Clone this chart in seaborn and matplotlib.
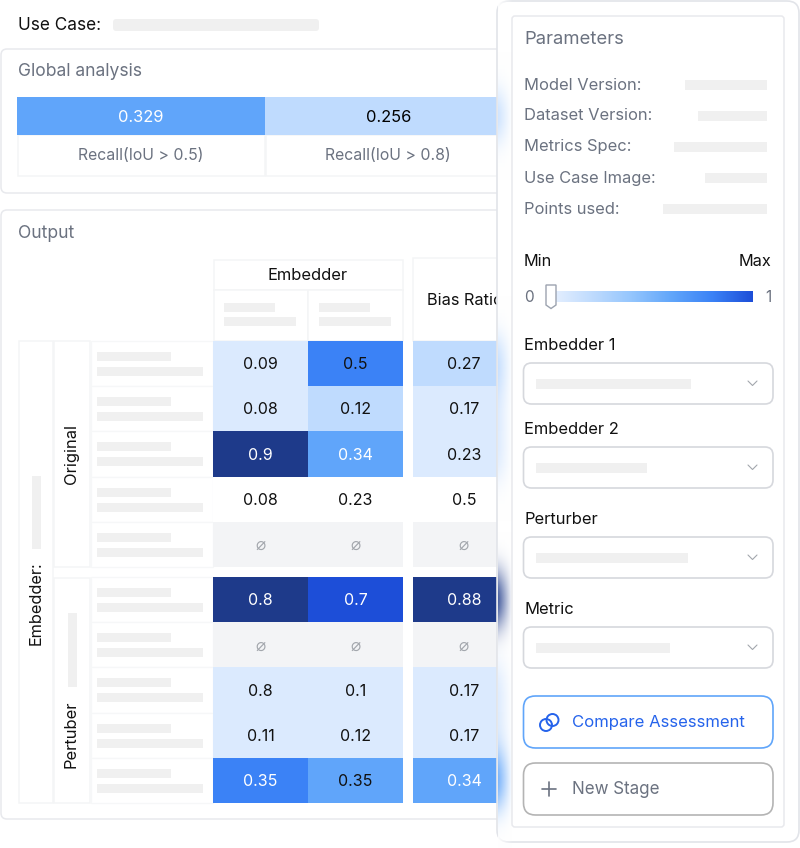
import numpy as np
import matplotlib
matplotlib.use("Agg")
import matplotlib.pyplot as plt
import seaborn as sns
from matplotlib.colors import ListedColormap, LinearSegmentedColormap, to_rgb
from matplotlib.patches import FancyBboxPatch, Rectangle, Polygon, Circle

# ---- data -------------------------------------------------------------
global_values = ["0.329", "0.256"]
global_shades = [3, 2]
global_text = ["white", "black"]
global_metrics = ["Recall(IoU > 0.5)", "Recall(IoU > 0.8)"]

NULL = "\u2300"
embedder_labels = [["0.09", "0.5"], ["0.08", "0.12"], ["0.9", "0.34"], ["0.08", "0.23"], [NULL, NULL]]
embedder_shades = [[1, 4], [1, 2], [6, 3], [0, 0], [7, 7]]
embedder_text = [["k", "k"], ["k", "k"], ["w", "w"], ["k", "k"], ["n", "n"]]

bias_labels = [["0.27"], ["0.17"], ["0.23"], ["0.5"], [NULL]]
bias_shades = [[2], [1], [1], [0], [7]]
bias_text = [["k"], ["k"], ["k"], ["k"], ["n"]]

pert_labels = [["0.8", "0.7"], [NULL, NULL], ["0.8", "0.1"], ["0.11", "0.12"], ["0.35", "0.35"]]
pert_shades = [[6, 5], [7, 7], [1, 1], [1, 1], [4, 3]]
pert_text = [["w", "w"], ["n", "n"], ["k", "k"], ["k", "k"], ["w", "k"]]

pert_bias_labels = [["0.88"], [NULL], ["0.17"], ["0.17"], ["0.34"]]
pert_bias_shades = [[6], [7], [1], [1], [3]]
pert_bias_text = [["w"], ["n"], ["k"], ["k"], ["w"]]

palette = ["#ffffff", "#dbeafe", "#bfdbfe", "#60a5fa", "#3b82f6", "#1d4ed8", "#1e3a8a", "#f3f4f6"]
text_colors = {"k": "#111111", "w": "#ffffff", "n": "#a3a7ad"}

param_names = ["Model Version:", "Dataset Version:", "Metrics Spec:", "Use Case Image:", "Points used:"]
param_bar_starts = [685, 698, 674, 705, 663]
select_names = ["Embedder 1", "Embedder 2", "Perturber", "Metric"]
select_bar_ends = [691, 647, 688, 670]
select_tops = [363, 447, 537, 627]

# ---- setup ------------------------------------------------------------
sns.set_theme(style="white")
plt.rcParams["font.family"] = ["Inter", "DejaVu Sans"]
W, H = 800, 848
fig = plt.figure(figsize=(W / 100, H / 100), dpi=100, facecolor="white")
px = lambda n: n * 0.72


def pixel_axes(x0, y0, x1, y1, z):
    ax = fig.add_axes([x0 / W, 1 - y1 / H, (x1 - x0) / W, (y1 - y0) / H], zorder=z)
    return ax


def overlay(z):
    ax = pixel_axes(0, 0, W, H, z)
    ax.set_xlim(0, W)
    ax.set_ylim(H, 0)
    ax.axis("off")
    ax.patch.set_alpha(0)
    return ax


def box(ax, x0, y0, x1, y1, r=0, fc="white", ec="none", lw=1.0, z=1):
    if r:
        p = FancyBboxPatch((x0 + r, y0 + r), x1 - x0 - 2 * r, y1 - y0 - 2 * r,
                           boxstyle=f"round,pad={r},rounding_size={r}", fc=fc, ec=ec, lw=lw, zorder=z)
    else:
        p = Rectangle((x0, y0), x1 - x0, y1 - y0, fc=fc, ec=ec, lw=lw, zorder=z)
    ax.add_patch(p)


def bar(ax, x0, y0, x1, y1, z=2):
    box(ax, x0, y0, x1, y1, fc="#f0f0f0", z=z)


def label(ax, x, y, s, size, color="#111111", ha="left", rot=0, z=5):
    ax.text(x, y + (1.5 if rot == 0 else 0), s, fontsize=px(size), color=color, ha=ha, va="center",
            rotation=rot, zorder=z, rotation_mode="anchor" if rot == 0 else "default")


def heat(x0, y0, x1, y1, shades, labels, txt, size=16):
    ax = pixel_axes(x0, y0, x1, y1, 1)
    arr = np.array(shades)
    sns.heatmap(arr, annot=np.array(labels), fmt="", cmap=ListedColormap(palette),
                vmin=-0.5, vmax=len(palette) - 0.5, cbar=False, xticklabels=False, yticklabels=False,
                annot_kws={"fontsize": px(size)}, ax=ax)
    flat = [c for row in txt for c in row]
    for t, c in zip(ax.texts, flat):
        t.set_color(text_colors.get(c, c))
        tx, ty = t.get_position()
        t.set_position((tx, ty + arr.shape[0] / (y1 - y0)))
        if t.get_text() == NULL:
            t.set_fontsize(px(17))
    return ax


# ---- left side background ---------------------------------------------
bg = overlay(0)
label(bg, 18, 24, "Use Case:", 17.2)
box(bg, 113, 19, 319, 31, r=3, fc="#f0f0f0")
edge = "#e8e9ed"
box(bg, 1, 49, 540, 193, r=6, ec=edge, lw=1.1)
box(bg, 1, 210, 540, 819, r=6, ec=edge, lw=1.1)
label(bg, 18, 70.5, "Global analysis", 17.5, "#6b7280")
label(bg, 18, 231.5, "Output", 17.5, "#6b7280")

# global table
soft = "#f4f5f6"
box(bg, 17.5, 135, 264.5, 176, ec=soft, lw=1.1)
box(bg, 265.5, 135, 530, 176, ec=soft, lw=1.1)
for x, m in zip([140.5, 388], global_metrics):
    label(bg, x, 154.5, m, 15.8, "#6b7280", ha="center")

# header
box(bg, 213.5, 259.5, 403, 289.5, ec=soft, lw=1.1)
box(bg, 213.5, 290, 308, 341, ec=soft, lw=1.1)
box(bg, 308, 290, 403, 341, ec=soft, lw=1.1)
box(bg, 413, 258, 530, 341, ec=soft, lw=1.1)
label(bg, 307.5, 273.5, "Embedder", 16.5, ha="center")
label(bg, 427, 299, "Bias Ratio", 16.3)
for x in (224, 319):
    bar(bg, x, 303, x + 51, 312)
    bar(bg, x, 317, x + 72, 326)

# row headers
box(bg, 18.5, 341, 53, 803, ec=soft, lw=1.1)
box(bg, 54, 341, 89.5, 567, ec=soft, lw=1.1)
box(bg, 54, 578, 89.5, 803, ec=soft, lw=1.1)
group_tops = (341, 577)
row_h = 45.2
for top in group_tops:
    for i in range(5):
        y = top + i * row_h
        box(bg, 90.5, y, 213, y + row_h, ec="#f6f7f8", lw=0.9)
        bar(bg, 97, y + 11, 171, y + 20)
        bar(bg, 97, y + 26, 203, y + 35)
bar(bg, 32, 476, 41, 549)
bar(bg, 68, 613, 77, 687)
label(bg, 36, 603, "Embedder:", 16.3, ha="center", rot=90)
label(bg, 71, 454, "Original", 16.5, ha="center", rot=90)
label(bg, 71, 734, "Pertuber", 16.5, ha="center", rot=90)

# ---- heatmaps ---------------------------------------------------------
heat(17, 97, 512, 135, [global_shades], [global_values], [global_text], size=16.5)
heat(213, 341, 403, 567, embedder_shades, embedder_labels, embedder_text)
heat(413, 341, 515, 567, bias_shades, bias_labels, bias_text)
heat(213, 577, 403, 803, pert_shades, pert_labels, pert_text)
heat(413, 577, 515, 803, pert_bias_shades, pert_bias_labels, pert_bias_text)

# ---- right panel ------------------------------------------------------
fg = overlay(3)
box(fg, 497, 1, 799, 842, r=12, ec="#e2e4e9", lw=1.2, z=1)

# soft glow of the hidden cells through the panel edge
profile = np.ones((H, 3))
for top, col in ((341, bias_shades), (577, pert_bias_shades)):
    for i, row in enumerate(col):
        if row[0] != 7:
            profile[int(top + i * row_h):int(top + (i + 1) * row_h)] = to_rgb(palette[row[0]])
profile[97:135] = to_rgb(palette[global_shades[1]])
kernel = np.exp(-0.5 * (np.arange(-45, 46) / 15) ** 2)
kernel /= kernel.sum()
blur = np.stack([np.convolve(np.pad(profile[:, c], 45, mode="edge"), kernel, mode="valid") for c in range(3)], 1)
fade = np.linspace(1, 0, 15)
glow = np.zeros((H, 15, 4))
glow[..., :3] = blur[:, None, :]
glow[..., 3] = fade[None, :] * 0.9
fg.imshow(glow, extent=(498, 513, H, 0), aspect="auto", zorder=1.5, interpolation="bilinear")
fg.set_xlim(0, W)
fg.set_ylim(H, 0)

box(fg, 512, 16, 784, 827, r=3, ec="#e8e9ed", lw=1.1, z=2)
label(fg, 524, 38.5, "Parameters", 18.5, "#6b7280")
for name, start, y in zip(param_names, param_bar_starts, [84, 115, 146, 177, 208]):
    label(fg, 524, y - 0.5, name, 16.5, "#6b7280")
    bar(fg, start, y - 4, 767, y + 6, z=3)

label(fg, 524, 259.5, "Min", 16.3)
label(fg, 771, 259.5, "Max", 16.3, ha="right")
label(fg, 524, 295.5, "0", 15.5, "#6b7280")
label(fg, 771, 295.5, "1", 15.5, "#6b7280", ha="right")
grad_ax = pixel_axes(552, 291, 753, 302, 4)
grad = LinearSegmentedColormap.from_list("g", ["#e6f0fe", "#bfdbfe", "#93c5fd", "#60a5fa", "#3b82f6", "#1d4ed8"])
grad_ax.imshow(np.linspace(0, 1, 256)[None, :], cmap=grad, aspect="auto")
grad_ax.axis("off")
top = overlay(5)
top.add_patch(Polygon([[546, 285], [556, 285], [556, 305], [551, 308.5], [546, 305]], closed=True,
                      fc="white", ec="#9ca3af", lw=1.0))

for name, end, t in zip(select_names, select_bar_ends, select_tops):
    label(top, 524, t - 19.5, name, 16.5)
    box(top, 523.5, t, 773, t + 41, r=8, ec="#d6d8dd", lw=1.2)
    bar(top, 536, t + 16, end, t + 26)
    top.plot([748, 752.5, 757], [t + 18, t + 22.5, t + 18], color="#a3a7ad", lw=0.8)

blue = "#2563eb"
box(top, 523.5, 696, 773, 748, r=12, ec="#60a5fa", lw=1.2)
top.add_patch(Circle((546, 725), 6, fc="none", ec=blue, lw=1.4))
top.add_patch(Circle((552.5, 720), 6, fc="none", ec=blue, lw=1.4))
label(top, 572, 721, "Compare Assessment", 16.7, blue)
box(top, 523.5, 763, 773, 815, r=12, ec="#b4b4b4", lw=1.2)
top.plot([542, 556], [789, 789], color="#6b7280", lw=1.2)
top.plot([549, 549], [782, 796], color="#6b7280", lw=1.2)
label(top, 572, 788, "New Stage", 17, "#6b7280")

fig.savefig("out.png", dpi=100, facecolor="white")
